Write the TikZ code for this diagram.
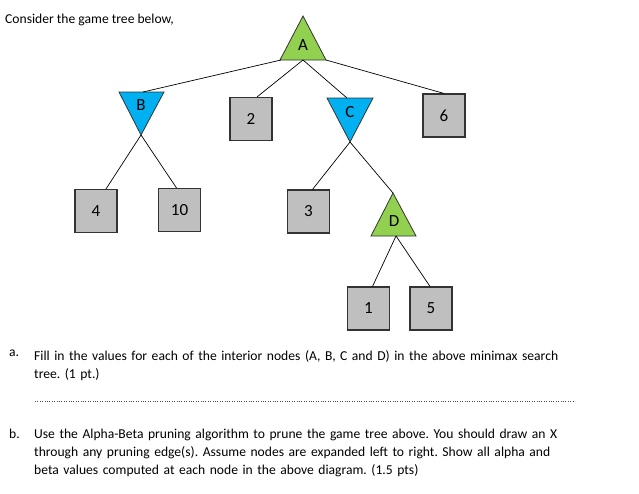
\documentclass[tikz,border=0pt]{standalone}
\usepackage{fontspec}
\setmainfont{Carlito}
\frenchspacing
\definecolor{maxg}{RGB}{146,208,80}
\definecolor{minb}{RGB}{0,176,240}
\definecolor{leafg}{RGB}{191,191,191}
\begin{document}
\begin{tikzpicture}[x=1pt,y=-1pt,
  leaf/.style={draw=black!80,line width=1.1pt,fill=leafg,minimum width=42pt,minimum height=43pt,inner sep=0pt,font=\fontsize{17}{19}\selectfont},
  tri/.style={draw=black!80,line width=0.8pt},
  lab/.style={font=\fontsize{17}{19}\selectfont},
  edge/.style={line width=0.7pt},
  txt/.style={font=\fontsize{13.6}{18}\selectfont,anchor=north west,inner sep=0pt,align=left}]
\useasboundingbox (0,0) rectangle (639,493);
\draw[tri,fill=maxg] (303,16) -- (326,60) -- (280,60) -- cycle;
\node[lab] (A) at (303,45) {A};
\coordinate (Ab) at (303,60); \coordinate (Ar) at (326,60); \coordinate (Al) at (281,60);
\draw[tri,fill=minb] (119,92) -- (164,92) -- (141,135) -- cycle;
\node[lab] (B) at (141,105) {B};
\coordinate (Bt) at (143,92); \coordinate (Bb) at (141,135);
\draw[tri,fill=minb] (327,98) -- (373,98) -- (350,142) -- cycle;
\node[lab] (C) at (350,112) {C};
\coordinate (Ct) at (347,98); \coordinate (Cb) at (350,142);
\draw[tri,fill=maxg] (393,193) -- (416,236) -- (371,236) -- cycle;
\node[lab] (D) at (394,221) {D};
\coordinate (Dt) at (393,193); \coordinate (Db) at (396,236);
\node[leaf] (n2) at (251,119) {2};
\node[leaf] (n6) at (444,115.5) {6};
\node[leaf] (n4) at (96,211) {4};
\node[leaf] (n10) at (179.5,210) {10};
\node[leaf] (n3) at (308.5,211.5) {3};
\node[leaf] (n1) at (368.5,308.5) {1};
\node[leaf] (n5) at (431,308.5) {5};
\draw[edge] (Al) -- (Bt);
\draw[edge] (Ab) -- ([xshift=6pt]n2.north);
\draw[edge] (Ab) -- (Ct);
\draw[edge] (Ar) -- (n6.north);
\draw[edge] (Bb) -- ([xshift=10pt]n4.north);
\draw[edge] (Bb) -- ([xshift=-3pt]n10.north);
\draw[edge] (Cb) -- ([xshift=4pt]n3.north);
\draw[edge] (Cb) -- (Dt);
\draw[edge] (Db) -- ([xshift=4pt]n1.north);
\draw[edge] (Db) -- ([xshift=-1pt]n5.north);
\node[txt] (t0) at (5,14) {Consider the game tree below,};
\node[txt] (la) at (9,350) {a.};
\node[txt,text width=540pt] (ta) at (34,350) {\raggedright Fill in the values for each of the interior nodes (A, B, C and D) in the above minimax search\\ tree. (1 pt.)};
\coordinate (d1) at (35,401); \coordinate (d2) at (575,401);
\draw[line width=0.5pt,dash pattern=on 0.8pt off 1.6pt,black!70] (d1) -- (d2);
\node[txt] (lb) at (9,429) {b.};
\node[txt,text width=545pt] (tb) at (34,429) {\raggedright Use the Alpha-Beta pruning algorithm to prune the game tree above. You should draw an X\\ through any pruning edge(s). Assume nodes are expanded left to right. Show all alpha and\\ beta values computed at each node in the above diagram. (1.5 pts)};
\end{tikzpicture}
\end{document}
